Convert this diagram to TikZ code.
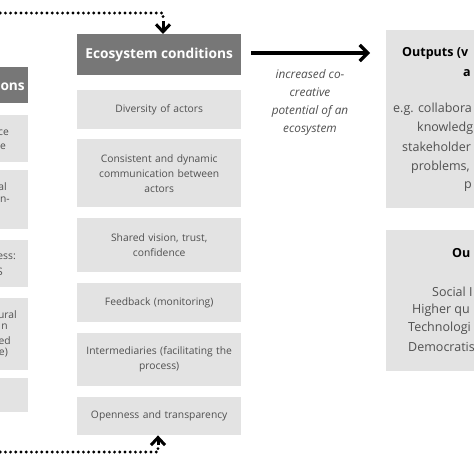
\documentclass[tikz,border=0pt]{standalone}
\usepackage{fontspec}
\setmainfont{Open Sans}
\usetikzlibrary{arrows.meta}
\definecolor{hdrgray}{HTML}{777777}
\definecolor{boxgray}{HTML}{E3E3E3}
\definecolor{txtgray}{HTML}{505050}
\tikzset{
  hdr/.style={fill=hdrgray, draw=none, anchor=north west, inner sep=0pt, text=white, font=\bfseries\fontsize{13.7}{16}\selectfont, align=center},
  lbox/.style={fill=boxgray, draw=none, anchor=north west, inner sep=0pt, text=txtgray, font=\fontsize{10.3}{15}\selectfont, align=center},
  frag/.style={inner sep=0pt, text=txtgray, font=\fontsize{10.3}{15}\selectfont},
  rfrag/.style={inner sep=0pt, anchor=west, text=txtgray, font=\fontsize{12.5}{19}\selectfont},
  rbold/.style={inner sep=0pt, anchor=west, text=black, font=\bfseries\fontsize{12.5}{19}\selectfont},
  dotline/.style={line width=3.2pt, line cap=round, dash pattern=on 0pt off 5.2pt},
  chev/.style={-{Straight Barb[length=7.5pt,width=14pt,line width=3pt]}},
}
\begin{document}
\begin{tikzpicture}[x=1pt,y=-1pt]
\useasboundingbox (0,0) rectangle (474,474);
\clip (0,0) rectangle (474,474);
\fill[white] (0,0) rectangle (474,474);

% left column (clipped)
\node[hdr, minimum width=60pt, minimum height=36pt] (lh) at (-32,67) {};
\node[inner sep=0pt, anchor=east, text=white, font=\bfseries\fontsize{13.7}{16}\selectfont] (lht) at (25,85) {ions};
\node[lbox, minimum width=60pt, minimum height=47pt] (l1) at (-32,115) {};
\node[lbox, minimum width=60pt, minimum height=59pt] (l2) at (-32,170) {};
\node[lbox, minimum width=60pt, minimum height=47pt] (l3) at (-32,240) {};
\node[lbox, minimum width=60pt, minimum height=72pt] (l4) at (-32,298) {};
\node[lbox, minimum width=60pt, minimum height=34pt] (l5) at (-32,378) {};
\node[frag, anchor=east] (f1) at (9,133) {ce};
\node[frag, anchor=east] (f2) at (6,147) {e};
\node[frag, anchor=east] (f3) at (7,187) {al};
\node[frag, anchor=east] (f4) at (10,200) {an-};
\node[frag, anchor=east] (f5) at (16,257) {ess:};
\node[frag, anchor=east] (f6) at (3,272) {S};
\node[frag, anchor=east] (f7) at (17,315) {ural};
\node[frag, anchor=east] (f8) at (8,327) {n};
\node[frag, anchor=east] (f9) at (11,341) {ed};
\node[frag, anchor=east] (f10) at (8,353) {e)};

% middle column
\node[hdr, minimum width=164pt, minimum height=41pt] (eh) at (77,34) {Ecosystem conditions};
\node[lbox, minimum width=164pt, minimum height=39pt, text width=156pt] (m1) at (77,90) {Diversity of actors};
\node[lbox, minimum width=164pt, minimum height=68pt, text width=156pt] (m2) at (77,139) {Consistent and dynamic\\communication between\\actors};
\node[lbox, minimum width=164pt, minimum height=54pt, text width=156pt] (m3) at (77,218) {Shared vision, trust,\\confidence};
\node[lbox, minimum width=164pt, minimum height=39pt, text width=156pt] (m4) at (77,283) {Feedback (monitoring)};
\node[lbox, minimum width=164pt, minimum height=53pt, text width=156pt] (m5) at (77,333) {Intermediaries (facilitating the\\process)};
\node[lbox, minimum width=164pt, minimum height=38pt, text width=156pt] (m6) at (77,397) {Openness and transparency};

% dotted feedback lines
\coordinate (tl) at (-5,13);
\coordinate (tc) at (163,13);
\coordinate (bl) at (-5,452);
\coordinate (bc) at (158,452);
\draw[dotline] (tl) -- (tc) -- (163,18.2);
\draw[line width=3pt, chev] (163,21) -- (eh.north -| tc);
\draw[dotline] (bl) -- (bc) -- (158,446.8);
\draw[line width=3pt, chev] (158,445) -- (m6.south -| bc);

% main arrow
\coordinate (ae) at (370,53);
\draw[line width=3.2pt, -{Straight Barb[length=8pt,width=16pt,line width=3.2pt]}] (eh.east |- ae) ++(10,0) -- (ae);
\node[inner sep=0pt, text=txtgray, font=\itshape\fontsize{11.8}{18}\selectfont, align=center] (lab) at (310,102) {increased co-\\creative\\potential of an\\ecosystem};

% right column (clipped)
\node[lbox, minimum width=150pt, minimum height=178pt] (o1) at (386,30) {};
\node[rbold] (o1a) at (402,53) {Outputs (v};
\node[rbold] (o1b) at (463,73) {a};
\node[rfrag] (o1c) at (393,109) {e.g. collabora};
\node[rfrag] (o1d) at (417,128) {knowledg};
\node[rfrag] (o1e) at (402,147) {stakeholder};
\node[rfrag] (o1f) at (411,167) {problems,};
\node[rfrag] (o1g) at (464,187) {p};

\node[lbox, minimum width=150pt, minimum height=141pt] (o2) at (386,230) {};
\node[rbold] (o2a) at (452,253) {Ou};
\node[rfrag] (o2b) at (432,292) {Social I};
\node[rfrag] (o2c) at (412,310) {Higher qu};
\node[rfrag] (o2d) at (408,328) {Technologi};
\node[rfrag] (o2e) at (408,347) {Democratis};
\end{tikzpicture}
\end{document}
